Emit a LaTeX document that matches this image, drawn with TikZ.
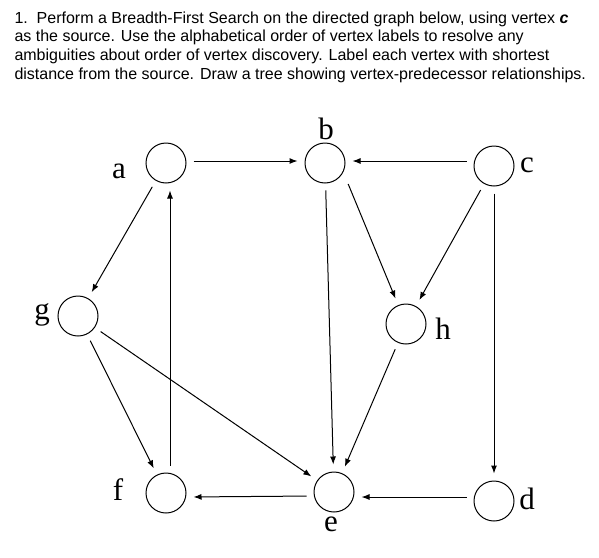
\documentclass[tikz,border=0pt]{standalone}
\usepackage{fontspec}
\setmainfont{Liberation Serif}
\newfontfamily\qfont{Liberation Sans}
\usetikzlibrary{arrows.meta}
\usetikzlibrary{positioning}

\begin{document}
\begin{tikzpicture}[x=1pt,y=-1pt,->,>={Latex[length=8pt,width=6pt]},shorten >=7pt,shorten <=7pt,
                    line width=1pt,vertex/.style={circle,draw,minimum size=40pt,inner sep=0pt},
                    vlabel/.style={font=\fontsize{31}{31}\selectfont,inner sep=0pt}]
  \useasboundingbox (0,0) rectangle (599,557);

  \node[anchor=north west,inner sep=0pt,align=left,font=\qfont\fontsize{16}{18.7}\selectfont](task) at (14,11)
    {1.\ \ Perform a Breadth-First Search on the directed graph below, using vertex \textbf{\textit{c}}\\
     as the source. Use the alphabetical order of vertex labels to resolve any\\
     ambiguities about order of vertex discovery. Label each vertex with shortest\\
     distance from the source. Draw a tree showing vertex-predecessor relationships.};

  \node[vertex](a) at (166,163) {};
  \node[vertex](b) at (325,163) {};
  \node[vertex](c) at (494,166) {};
  \node[vertex](g) at (78,316) {};
  \node[vertex](h) at (406,324) {};
  \node[vertex](f) at (166,493) {};
  \node[vertex](e) at (334,492) {};
  \node[vertex](d) at (494,501) {};

  \node[vlabel](la) at (119,171) {a};
  \node[vlabel](lb) at (326,129) {b};
  \node[vlabel](lc) at (527,165) {c};
  \node[vlabel](lg) at (42,315) {g};
  \node[vlabel](lh) at (443,329) {h};
  \node[vlabel](lf) at (118,490) {f};
  \node[vlabel](le) at (331,524) {e};
  \node[vlabel](ld) at (527,499) {d};

  \draw ([yshift=2pt]a.east) -- ([yshift=2pt]b.west);
  \draw ([yshift=5pt]c.west) -- ([yshift=2pt]b.east);
  \draw (a) -- (g);
  \draw ([xshift=4pt]f.north) -- ([xshift=4pt]a.south);
  \draw ([xshift=6pt]b.south east) -- (h);
  \draw (c) -- (h);
  \draw (c) -- (d);
  \draw (b) -- (e);
  \draw (h) -- (e);
  \draw (g) -- (e);
  \draw (g) -- (f);
  \draw ([yshift=-4pt]e.west) -- ([yshift=-4pt]f.east);
  \draw ([yshift=4pt]d.west) -- ([yshift=-5pt]e.east);
\end{tikzpicture}
\end{document}
